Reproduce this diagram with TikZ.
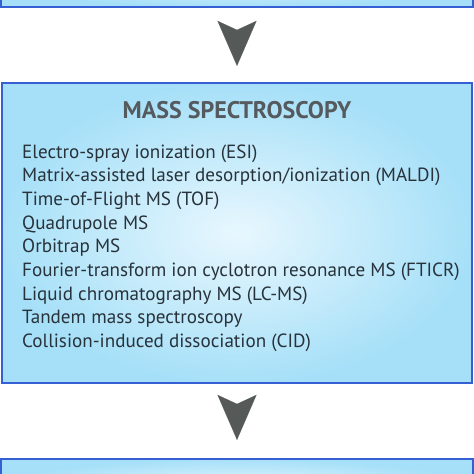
\documentclass[tikz,border=0pt]{standalone}
\usepackage{fontspec}
\setmainfont{PT Sans}
\usepackage{tikz}
\usetikzlibrary{arrows.meta,positioning}
\definecolor{boxline}{RGB}{55, 95, 212}
\definecolor{boxedge}{RGB}{166, 224, 248}
\definecolor{boxcentre}{RGB}{232, 247, 254}
\definecolor{arrowgrey}{RGB}{85, 90, 88}
\definecolor{bodytext}{RGB}{40, 50, 58}
\definecolor{headtext}{RGB}{85, 90, 95}

\begin{document}
\begin{tikzpicture}[x=1pt, y=-1pt,
    stagebox/.style={draw=boxline, line width=2.2pt, shading=radial,
        inner color=boxcentre, outer color=boxedge, inner sep=0pt},
    flowarrow/.style={draw=arrowgrey, fill=arrowgrey, line width=0.1pt,
        -{Stealth[length=45pt, width=39pt, inset=9pt]}},
    headline/.style={font=\bfseries\fontsize{24}{28}\selectfont, text=headtext, inner sep=0pt},
    itemline/.style={font=\fontsize{19.1}{23}\selectfont, text=bodytext, inner sep=0pt, anchor=base west}]
    \useasboundingbox (0,0) rectangle (474,474);
    \clip (0,0) rectangle (474,474);

    % Stage boxes
    \node[stagebox, minimum width=472pt, minimum height=60pt] (topbox) at (237,-23) {};
    \node[stagebox, minimum width=470pt, minimum height=300pt] (massbox) at (237,233) {};
    \node[stagebox, minimum width=472pt, minimum height=60pt] (bottombox) at (237,489) {};

    % Arrows between the stages
    \draw[flowarrow, shorten <=24pt, shorten >=16pt] (topbox) -- (massbox);
    \draw[flowarrow, shorten <=22pt, shorten >=18pt] (massbox) -- (bottombox);

    % Contents of the mass spectroscopy box
    \node[headline, anchor=base] (masshead) at (237,118) {MASS SPECTROSCOPY};
    \foreach \txt [count=\i] in {Electro-spray ionization (ESI),
        Matrix-assisted laser desorption/ionization (MALDI),
        Time-of-Flight MS (TOF),
        Quadrupole MS,
        Orbitrap MS,
        Fourier-transform ion cyclotron resonance MS (FTICR),
        Liquid chromatography MS (LC-MS),
        Tandem mass spectroscopy,
        Collision-induced dissociation (CID)}
        \node[itemline] (item\i) at (22,{158+(\i-1)*23.7}) {\txt};
\end{tikzpicture}
\end{document}
